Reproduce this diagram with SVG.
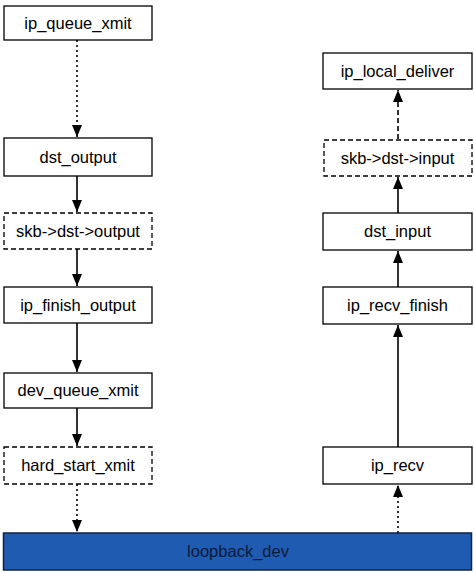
<svg xmlns="http://www.w3.org/2000/svg" width="474" height="573" viewBox="0 0 474 573">
<defs>
<style>
.box{fill:#fff;stroke:#000;stroke-width:1.3}
.dash{fill:#fff;stroke:#000;stroke-width:1.3;stroke-dasharray:5 3}
.lbl{font-family:"Liberation Sans",Arial,sans-serif;font-size:16.5px;fill:#000;text-anchor:middle}
.c{stroke:#000;stroke-width:1.6;fill:none}
.dot{stroke-dasharray:2 3}
.ds{stroke-dasharray:5 3}
</style>
<marker id="ah" markerWidth="12" markerHeight="10" refX="12" refY="5" orient="auto" markerUnits="userSpaceOnUse" viewBox="0 0 12 10">
<path d="M0,0 L12,5 L0,10 Z" fill="#000"/>
</marker>
</defs>
<rect width="474" height="573" fill="#fff"/>
<g id="connectors">
<line class="c dot" x1="77" y1="40" x2="77" y2="137" marker-end="url(#ah)"/>
<line class="c" x1="77" y1="176" x2="77" y2="212" marker-end="url(#ah)"/>
<line class="c" x1="77" y1="249" x2="77" y2="286" marker-end="url(#ah)"/>
<line class="c" x1="77" y1="323" x2="77" y2="372" marker-end="url(#ah)"/>
<line class="c" x1="77" y1="408" x2="77" y2="446" marker-end="url(#ah)"/>
<line class="c dot" x1="77" y1="484" x2="77" y2="532" marker-end="url(#ah)"/>
<line class="c dot" x1="398" y1="533" x2="398" y2="485" marker-end="url(#ah)"/>
<line class="c" x1="398" y1="447" x2="398" y2="325" marker-end="url(#ah)"/>
<line class="c" x1="398" y1="287" x2="398" y2="251" marker-end="url(#ah)"/>
<line class="c" x1="398" y1="213" x2="398" y2="177" marker-end="url(#ah)"/>
<line class="c ds" x1="398" y1="139" x2="398" y2="90" marker-end="url(#ah)"/>
</g>
<g id="ip_queue_xmit"><rect class="box" x="4" y="6" width="148" height="34"/><text class="lbl" x="78" y="28.5">ip_queue_xmit</text></g>
<g id="dst_output"><rect class="box" x="4" y="138" width="148" height="38"/><text class="lbl" x="78" y="162.5">dst_output</text></g>
<g id="skb_dst_output"><rect class="dash" x="4" y="213" width="148" height="36"/><text class="lbl" x="78" y="236.5">skb-&gt;dst-&gt;output</text></g>
<g id="ip_finish_output"><rect class="box" x="4" y="287" width="148" height="36"/><text class="lbl" x="78" y="310.5">ip_finish_output</text></g>
<g id="dev_queue_xmit"><rect class="box" x="4" y="373" width="148" height="35"/><text class="lbl" x="78" y="396">dev_queue_xmit</text></g>
<g id="hard_start_xmit"><rect class="dash" x="4" y="447" width="148" height="37"/><text class="lbl" x="78" y="471">hard_start_xmit</text></g>
<g id="ip_local_deliver"><rect class="box" x="323" y="53" width="149" height="36"/><text class="lbl" x="397.5" y="76.5">ip_local_deliver</text></g>
<g id="skb_dst_input"><rect class="dash" x="324" y="140" width="148" height="36"/><text class="lbl" x="397.5" y="163.5">skb-&gt;dst-&gt;input</text></g>
<g id="dst_input"><rect class="box" x="323" y="213" width="149" height="37"/><text class="lbl" x="397.5" y="237">dst_input</text></g>
<g id="ip_recv_finish"><rect class="box" x="323" y="287" width="149" height="37"/><text class="lbl" x="397.5" y="311">ip_recv_finish</text></g>
<g id="ip_recv"><rect class="box" x="323" y="447" width="149" height="37"/><text class="lbl" x="397.5" y="471">ip_recv</text></g>
<g id="loopback_dev"><rect x="3.5" y="533" width="468" height="37" fill="#1f5bb0" stroke="#0d2347" stroke-width="1.5"/><text class="lbl" x="238" y="557" style="fill:#0a1a3a">loopback_dev</text></g>
</svg>
